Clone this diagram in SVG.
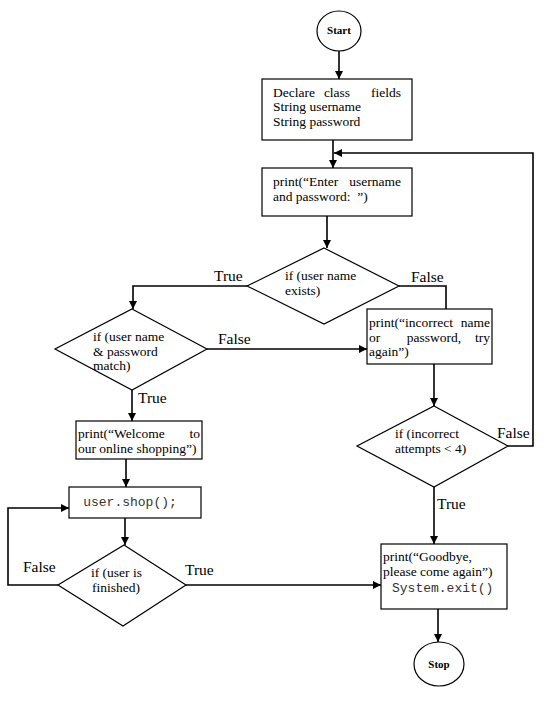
<svg xmlns="http://www.w3.org/2000/svg" width="547" height="713" viewBox="0 0 547 713">
<defs>
<marker id="arr" viewBox="0 0 10 10" refX="10" refY="5" markerWidth="8" markerHeight="8" markerUnits="userSpaceOnUse" orient="auto">
<path d="M0,0 L10,5 L0,10 z" fill="#000"/>
</marker>
<style>
.shape{fill:#fff;stroke:#000;stroke-width:1.2}
.conn{fill:none;stroke:#000;stroke-width:1.6}
.t{font-family:"Liberation Serif","Times New Roman",serif;font-size:13.5px;fill:#000}
.lbl{font-family:"Liberation Serif","Times New Roman",serif;font-size:15.5px;fill:#000}
.b{font-family:"Liberation Serif","Times New Roman",serif;font-size:11px;font-weight:bold;fill:#000}
.m{font-family:"Liberation Mono","Courier New",monospace;font-size:13px;fill:#333}
</style>
</defs>
<rect width="547" height="713" fill="#fff"/>
<g id="connectors">
<path class="conn" d="M339,51 V79" marker-end="url(#arr)"/>
<path class="conn" d="M333,140 V168" marker-end="url(#arr)"/>
<path class="conn" d="M508,446 H533 V153 H334" marker-end="url(#arr)"/>
<path class="conn" d="M327,216 V248" marker-end="url(#arr)"/>
<path class="conn" d="M247,286 H133 V309" marker-end="url(#arr)"/>
<path class="conn" d="M399,286 H446 V309"/>
<path class="conn" d="M207,349 H367" marker-end="url(#arr)"/>
<path class="conn" d="M132,390 V421" marker-end="url(#arr)"/>
<path class="conn" d="M126,459 V487" marker-end="url(#arr)"/>
<path class="conn" d="M125,518 V545" marker-end="url(#arr)"/>
<path class="conn" d="M58,585 H8 V508 H69" marker-end="url(#arr)"/>
<path class="conn" d="M186,585 H381" marker-end="url(#arr)"/>
<path class="conn" d="M434,364 V406" marker-end="url(#arr)"/>
<path class="conn" d="M434,487 V544" marker-end="url(#arr)"/>
<path class="conn" d="M438,609 V642" marker-end="url(#arr)"/>
<text class="lbl" x="214" y="281">True</text>
<text class="lbl" x="411" y="282">False</text>
<text class="lbl" x="218" y="344">False</text>
<text class="lbl" x="138" y="403">True</text>
<text class="lbl" x="497" y="438">False</text>
<text class="lbl" x="437" y="509">True</text>
<text class="lbl" x="23" y="572">False</text>
<text class="lbl" x="185" y="575">True</text>
</g>
<g id="start">
<ellipse class="shape" cx="339" cy="31" rx="22" ry="20"/>
<text class="b" x="339" y="34" text-anchor="middle">Start</text>
</g>
<g id="declare">
<rect class="shape" x="262" y="79" width="150" height="61"/>
<text class="t" x="273" y="97">Declare</text>
<text class="t" x="337" y="97" text-anchor="middle">class</text>
<text class="t" x="401" y="97" text-anchor="end">fields</text>
<text class="t" x="273" y="111">String username</text>
<text class="t" x="273" y="126">String password</text>
</g>
<g id="enter">
<rect class="shape" x="262" y="168" width="150" height="48"/>
<text class="t" x="273" y="186">print(“Enter</text>
<text class="t" x="401" y="186" text-anchor="end">username</text>
<text class="t" x="273" y="201" xml:space="preserve">and password:  ”)</text>
</g>
<g id="userExists">
<polygon class="shape" points="324,248 399,286 324,324 247,286"/>
<text class="t" x="285" y="280">if (user name</text>
<text class="t" x="285" y="295">exists)</text>
</g>
<g id="passwordMatch">
<polygon class="shape" points="132,309 207,349 132,390 55,349"/>
<text class="t" x="93" y="341">if (user name</text>
<text class="t" x="93" y="356">&amp; password</text>
<text class="t" x="93" y="370">match)</text>
</g>
<g id="incorrect">
<rect class="shape" x="367" y="309" width="125" height="55"/>
<text class="t" x="369" y="327">print(“incorrect</text>
<text class="t" x="490" y="327" text-anchor="end">name</text>
<text class="t" x="369" y="342">or</text>
<text class="t" x="434" y="342" text-anchor="middle">password,</text>
<text class="t" x="490" y="342" text-anchor="end">try</text>
<text class="t" x="369" y="356">again”)</text>
</g>
<g id="attempts">
<polygon class="shape" points="434,406 508,446 434,487 357,446"/>
<text class="t" x="395" y="438">if (incorrect</text>
<text class="t" x="395" y="453">attempts &lt; 4)</text>
</g>
<g id="welcome">
<rect class="shape" x="76" y="421" width="126" height="38"/>
<text class="t" x="78" y="438">print(“Welcome</text>
<text class="t" x="200" y="438" text-anchor="end">to</text>
<text class="t" x="78" y="453">our online shopping”)</text>
</g>
<g id="shop">
<rect class="shape" x="69" y="487" width="132" height="31"/>
<text class="m" x="130" y="506" text-anchor="middle">user.shop();</text>
</g>
<g id="finished">
<polygon class="shape" points="124,545 186,585 123,626 58,585"/>
<text class="t" x="91" y="577">if (user is</text>
<text class="t" x="92" y="592">finished)</text>
</g>
<g id="goodbye">
<rect class="shape" x="381" y="544" width="126" height="65"/>
<text class="t" x="383" y="561">print(“Goodbye,</text>
<text class="t" x="383" y="576">please come again”)</text>
<text class="m" x="392" y="592">System.exit()</text>
</g>
<g id="stop">
<ellipse class="shape" cx="439" cy="664" rx="25" ry="22"/>
<text class="b" x="439" y="668" text-anchor="middle">Stop</text>
</g>
</svg>
